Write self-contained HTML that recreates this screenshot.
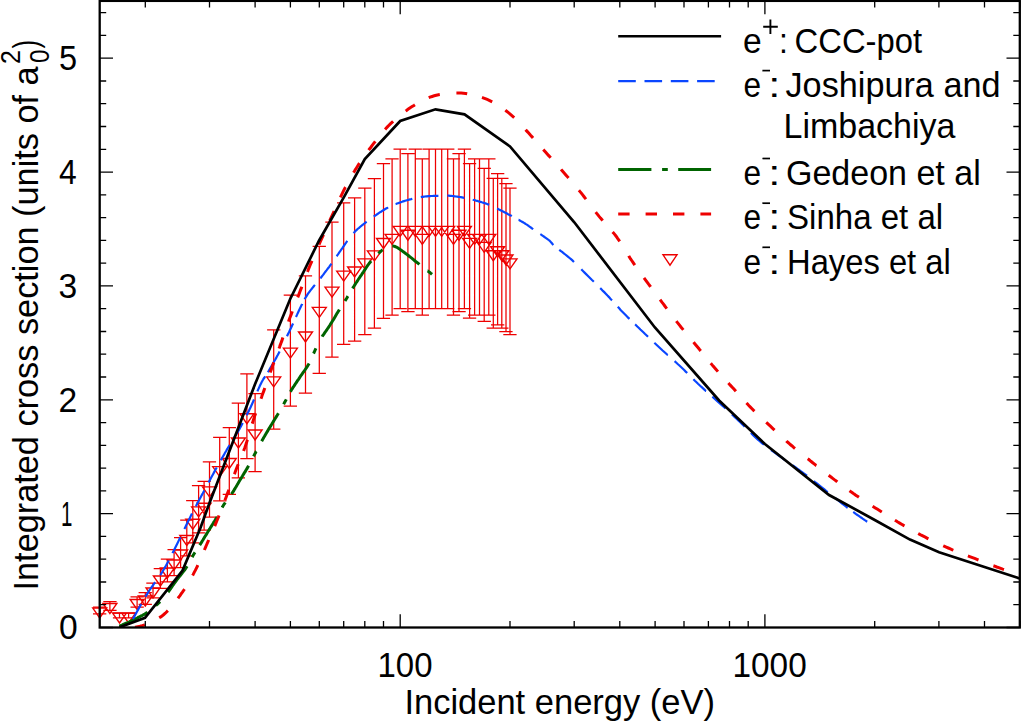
<!DOCTYPE html><html><head><meta charset="utf-8"><style>html,body{margin:0;padding:0;background:#fff;}svg{display:block;} text{font-family:"Liberation Sans",sans-serif;fill:#000;}</style></head><body>
<svg width="1021" height="722" viewBox="0 0 1021 722">
<rect width="1021" height="722" fill="#fff"/>
<g fill="none" stroke="#ee0000" stroke-width="1.25">
<path d="M99.7,607.1V613.9M93,607.1h13.3M93,613.9h13.3M109.9,601.7V610.3M103.3,601.7h13.3M103.3,610.3h13.3M119.5,613.1V617.9M112.9,613.1h13.3M112.9,617.9h13.3M128.6,613.1V617.9M121.9,613.1h13.3M121.9,617.9h13.3M137.1,596.9V607.1M130.5,596.9h13.3M130.5,607.1h13.3M145.3,592.7V604.3M138.6,592.7h13.3M138.6,604.3h13.3M153,583.1V597.9M146.3,583.1h13.3M146.3,597.9h13.3M160.4,568.7V588.3M153.7,568.7h13.3M153.7,588.3h13.3M167.4,559.1V581.9M160.8,559.1h13.3M160.8,581.9h13.3M174.1,549.5V575.5M167.5,549.5h13.3M167.5,575.5h13.3M180.6,537.5V567.5M174,537.5h13.3M174,567.5h13.3M186.8,520.1V555.9M180.2,520.1h13.3M180.2,555.9h13.3M192.8,500.5V542.9M186.1,500.5h13.3M186.1,542.9h13.3M198.6,485.7V532.9M191.9,485.7h13.3M191.9,532.9h13.3M204.1,481.3V530.1M197.5,481.3h13.3M197.5,530.1h13.3M209.5,461.8V517M202.8,461.8h13.3M202.8,517h13.3M219.7,437.4V500.8M213.1,437.4h13.3M213.1,500.8h13.3M229.3,427.7V494.3M222.7,427.7h13.3M222.7,494.3h13.3M238.4,403.1V477.9M231.7,403.1h13.3M231.7,477.9h13.3M246.9,373.9V458.5M240.3,373.9h13.3M240.3,458.5h13.3M255.1,393.5V471.5M248.4,393.5h13.3M248.4,471.5h13.3M273.7,329.8V429M267.1,329.8h13.3M267.1,429h13.3M290.4,295.2V406M283.7,295.2h13.3M283.7,406h13.3M305.5,275.9V393.1M298.8,275.9h13.3M298.8,393.1h13.3M319.3,246.3V373.3M312.6,246.3h13.3M312.6,373.3h13.3M332,222V357.2M325.3,222h13.3M325.3,357.2h13.3M343.7,202.8V344.4M337,202.8h13.3M337,344.4h13.3M354.6,197.9V341.1M348,197.9h13.3M348,341.1h13.3M364.8,188.1V334.5M358.2,188.1h13.3M358.2,334.5h13.3M374.4,178.6V328.2M367.8,178.6h13.3M367.8,328.2h13.3M383.5,163.7V318.3M376.8,163.7h13.3M376.8,318.3h13.3M392.1,158.8V315M385.4,158.8h13.3M385.4,315h13.3M400.2,149.1V308.5M393.5,149.1h13.3M393.5,308.5h13.3M407.9,153.7V311.7M401.3,153.7h13.3M401.3,311.7h13.3M415.3,149.1V308.5M408.6,149.1h13.3M408.6,308.5h13.3M422.3,158.8V315M415.7,158.8h13.3M415.7,315h13.3M429.1,149.1V308.5M422.4,149.1h13.3M422.4,308.5h13.3M435.5,149.1V308.5M428.9,149.1h13.3M428.9,308.5h13.3M441.7,149.1V308.5M435.1,149.1h13.3M435.1,308.5h13.3M447.7,149.1V308.5M441.1,149.1h13.3M441.1,308.5h13.3M453.5,158.8V315M446.8,158.8h13.3M446.8,315h13.3M459,153.7V311.7M452.4,153.7h13.3M452.4,311.7h13.3M464.4,149.1V308.5M457.8,149.1h13.3M457.8,308.5h13.3M469.6,163.5V318.1M462.9,163.5h13.3M462.9,318.1h13.3M474.6,158.8V315M468,158.8h13.3M468,315h13.3M479.5,158.8V315M472.8,158.8h13.3M472.8,315h13.3M484.2,168.4V321.4M477.6,168.4h13.3M477.6,321.4h13.3M488.8,158.8V315M482.2,158.8h13.3M482.2,315h13.3M493.3,178.3V328.1M486.6,178.3h13.3M486.6,328.1h13.3M497.6,173.5V324.9M491,173.5h13.3M491,324.9h13.3M501.8,178.3V328.1M495.2,178.3h13.3M495.2,328.1h13.3M506,183.5V331.5M499.3,183.5h13.3M499.3,331.5h13.3M510,188.1V334.5M503.3,188.1h13.3M503.3,334.5h13.3"/>
<path d="M92.7,608h14l-7,10zM102.9,603.5h14l-7,10zM112.5,613h14l-7,10zM121.6,613h14l-7,10zM130.1,599.5h14l-7,10zM138.3,596h14l-7,10zM146,588h14l-7,10zM153.4,576h14l-7,10zM160.4,568h14l-7,10zM167.1,560h14l-7,10zM173.6,550h14l-7,10zM179.8,535.5h14l-7,10zM185.8,519.2h14l-7,10zM191.6,506.8h14l-7,10zM197.1,503.2h14l-7,10zM202.5,486.9h14l-7,10zM212.7,466.6h14l-7,10zM222.3,458.5h14l-7,10zM231.4,438h14l-7,10zM239.9,413.7h14l-7,10zM248.1,430h14l-7,10zM266.7,376.9h14l-7,10zM283.4,348.1h14l-7,10zM298.5,332h14l-7,10zM312.3,307.3h14l-7,10zM325,287.1h14l-7,10zM336.7,271.1h14l-7,10zM347.6,267h14l-7,10zM357.8,258.8h14l-7,10zM367.4,250.9h14l-7,10zM376.5,238.5h14l-7,10zM385.1,234.4h14l-7,10zM393.2,226.3h14l-7,10zM400.9,230.2h14l-7,10zM408.3,226.3h14l-7,10zM415.3,234.4h14l-7,10zM422.1,226.3h14l-7,10zM428.5,226.3h14l-7,10zM434.7,226.3h14l-7,10zM440.7,226.3h14l-7,10zM446.5,234.4h14l-7,10zM452,230.2h14l-7,10zM457.4,226.3h14l-7,10zM462.6,238.3h14l-7,10zM467.6,234.4h14l-7,10zM472.5,234.4h14l-7,10zM477.2,242.4h14l-7,10zM481.8,234.4h14l-7,10zM486.3,250.7h14l-7,10zM490.6,246.7h14l-7,10zM494.8,250.7h14l-7,10zM499,255h14l-7,10zM503,258.8h14l-7,10z" stroke-width="1.35" stroke-linejoin="miter"/>
</g>
<defs><clipPath id="cp"><rect x="99.7" y="0" width="920.1" height="627.5"/></clipPath></defs>
<g clip-path="url(#cp)" fill="none">
<path d="M119.3,626.2 119.9,626 120.6,625.6 121.4,625.3 122.4,624.9 123.4,624.4 124.5,623.9 125.6,623.4 126.7,623 127.8,622.5 128.9,622 129.9,621.5 130.8,621.1 131.7,620.7 132.5,620.3 133.3,619.9 134.1,619.5 134.9,619.1 135.7,618.7 136.4,618.4 137.2,618 137.9,617.6 138.6,617.2 139.3,616.9 140,616.5 140.7,616.2 141.3,615.8 141.9,615.5 142.4,615.3 143,615 143.6,614.7 144.1,614.4 144.7,614.1 145.3,613.7 145.9,613.3 146.6,612.9 147.3,612.4 147.6,612.2M155.9,605.5 156.3,605.2 157.2,604.4 158,603.6 158.8,602.8 159.6,602.1 160.1,601.6M168.1,592.1 168.2,592 169,591 169.7,589.9 170.5,588.8 171.3,587.7 172,586.6 172.8,585.5 173.6,584.3 174.4,583.2 175.2,582.1 176,581 176.8,579.9 177.7,578.8 178.5,577.7 179.4,576.6 180.3,575.5 181.2,574.4 182,573.3 182.9,572.2 183.7,571.1 184.6,570 185.4,568.9 186.1,567.8 186.8,566.7 187.1,566.2M192.1,557.2 192.3,556.9 192.9,555.8 193.5,554.8 194.1,553.8 194.7,552.8 195,552.4M199.7,545.1 200.2,544.4 200.8,543.4 201.5,542.4 202.1,541.3 202.8,540.2 203.5,539.1 204.1,538 204.8,536.8 205.5,535.7 206.2,534.6 206.9,533.4 207.6,532.3 208.3,531.1 209,530 209.7,528.9 210.4,527.7 211.1,526.6 211.9,525.4 212.6,524.2 213.3,523.1 214,521.9 214.8,520.8 215.4,519.6 216.1,518.5 216.8,517.5 217.2,516.8M222.1,507.5 222.5,506.9 223,506 223.6,505 224.2,504 224.9,503.1 225.2,502.6M231.5,494.1 232.1,493.2 232.8,492.1 233.5,491.1 234.1,490 234.8,488.9 235.4,487.8 236.1,486.7 236.8,485.5 237.4,484.4 238.1,483.3 238.7,482.2 239.4,481.1 240,480 240.7,478.9 241.3,477.9 242,476.8 242.6,475.8 243.2,474.7 243.9,473.7 244.5,472.6 245.2,471.6 245.8,470.5 246.4,469.5 247.1,468.4 247.7,467.3 248.3,466.2 248.6,465.7M253.6,456.3 253.7,456.1 254.3,454.9 254.9,453.8 255.5,452.7 256.1,451.5 256.3,451.3M261.7,441.2 262.2,440.3 262.8,439.2 263.5,438.1 264.1,436.9 264.8,435.8 265.4,434.7 266.1,433.6 266.7,432.5 267.4,431.4 268,430.3 268.7,429.2 269.3,428.1 270,427 270.7,425.9 271.3,424.8 272,423.8 272.6,422.7 273.3,421.7 273.9,420.6 274.6,419.5 275.2,418.5 275.9,417.4 276.5,416.4 277.2,415.3 277.8,414.3 278.4,413.2M283.6,404.3 283.9,403.8 284.4,402.8 285,401.8 285.5,400.8 286,399.9 286.3,399.3M290.4,391.7 290.4,391.7 291,390.7 291.6,389.6 292.3,388.6 293,387.4 293.8,386.3 294.6,385.1 295.3,384 296.1,382.8 296.9,381.6 297.7,380.4 298.5,379.3 299.3,378.1 300,377 300.7,375.9 301.5,374.8 302.2,373.8 303,372.7 303.8,371.6 304.5,370.6 305.2,369.5 306,368.5 306.7,367.4 307.4,366.3 308,365.2 308.7,364.1 309.1,363.4M313.5,353.6 313.8,353.1 314.3,351.9 314.8,350.8 315.3,349.7 315.8,348.7 316,348.3M322.1,336.7 322.2,336.5 322.9,335.4 323.7,334.3 324.5,333.1 325.3,332 326.1,330.8 326.9,329.7 327.7,328.5 328.5,327.3 329.2,326.2 330,325 330.7,323.8 331.5,322.7 332.2,321.5 332.9,320.3 333.7,319.1 334.4,317.9 335.1,316.7 335.8,315.5 336.5,314.3 337.2,313.1 337.9,312 338.6,310.9 339.3,309.8 339.4,309.6M345,301 345.2,300.6 345.8,299.7 346.4,298.7 347,297.7 347.5,296.8 347.9,296.2M352.5,288.3 353,287.6 353.7,286.6 354.4,285.5 355.1,284.4 355.8,283.2 356.6,282.1 357.4,280.9 358.1,279.7 358.9,278.5 359.7,277.4 360.5,276.2 361.3,275.1 362,274 362.7,272.9 363.5,271.8 364.2,270.7 364.9,269.7 365.6,268.6 366.3,267.5 367,266.5 367.7,265.4 368.5,264.4 369.2,263.4 369.9,262.5 370.7,261.5 371.1,261M378.3,253.4 379,252.8 379.8,252.1 380.5,251.5 381.2,250.9 381.9,250.4 382.5,249.9 382.7,249.8M392.3,246 392.5,246 393.1,246 393.7,246.1 394.3,246.3 395,246.5 395.7,246.8 396.4,247.1 397.2,247.5 398,248 398.7,248.5 399.5,249 400.4,249.6 401.2,250.2 402.1,250.9 403,251.6 404,252.3 405,253 406,253.8 407.2,254.6 408.3,255.5 409.5,256.5 410.7,257.4 412,258.4 413.2,259.4 414.5,260.5 415.7,261.5 417,262.4 418.2,263.4 419.3,264.3 419.4,264.4M427.6,270.9 427.7,270.9 428.8,271.8 429.8,272.5 430.6,273.2 431.4,273.8 432,274.3" stroke="#006400" stroke-width="3"/>
<path d="M133,619 133.4,618.3 133.9,617.4 134.4,616.4 135,615.3 135.7,614 136.4,612.7 137.2,611.3 138,609.9 138.7,608.5 139.5,607.1 140.3,605.8 141,604.5 141.2,604.1M145.5,596.7 146.1,595.7 146.9,594.4 147.7,593.2 148.4,591.9 149.2,590.7 150,589.5 150.8,588.3 151.6,587.1 152.5,586 153.3,584.8 154.1,583.7 155,582.5 155.2,582.3M160.3,575.1 160.8,574.3 161.5,573.1 162.3,571.9 163,570.7 163.7,569.5 164.4,568.3 165.1,567.1 165.9,565.8 166.6,564.4 167.4,563 168.2,561.6 168.8,560.4M172.5,553.2 172.6,552.9 173.6,551 174.6,549 175.6,547 176.6,545 177.6,543 178.6,540.9 179.5,539 180.4,537.2M184.4,529 185.3,527.2 186.2,525.3 187.2,523.3 188.1,521.3 189.1,519.4 190.1,517.4 191,515.5 192,513.6M195.8,506.3 195.9,506.2 196.9,504.3 197.8,502.5 198.8,500.7 199.8,498.8 200.8,497 201.8,495.1 202.8,493.3 203.8,491.4 204.2,490.6M208.6,482.5 209,481.7 210.1,479.7 211.1,477.8 212.2,475.8 213.2,473.9 214.3,471.9 215.3,470 216.4,468.1 216.7,467.5M220.9,460.2 221.7,458.6 222.8,456.7 223.9,454.9 224.9,453 226,451.2 227,449.4 228,447.7 229,446 229.5,445.1M234.1,437.8 234.6,436.9 235.5,435.5 236.4,434 237.3,432.6 238.2,431.1 239.1,429.6 240,428 240.9,426.4 241.8,424.8 242.7,423.1 242.8,422.9M246.7,415.2 247,414.6 247.9,412.8 248.8,411 249.6,409.2 250.5,407.4 251.4,405.5 252.3,403.5 253.2,401.4 254,399.5M257.4,391.4 257.6,390.9 258.5,388.9 259.3,387.1 260.1,385.3 260.9,383.7 261.6,382.3 262.3,381 263,379.8 263.6,378.7 264.3,377.8 264.9,376.8 265.2,376.4M267.9,372.3 268.1,371.9 268.8,370.7 269.6,369.4 270.3,368.1 271.1,366.7 271.9,365.3 272.8,363.9 273.6,362.5 274.4,361 275.3,359.5 276.2,357.9 277,356.3 277.9,354.7 278.8,353 279.6,351.4M287,336.3 287.9,334.3 289,332.2 290,330 291.1,327.7 292.2,325.2 293.1,323.4M296,316.9 297.2,314.4 298.4,311.7 299.7,309 300.9,306.5 302.1,304.1 302.1,304M304.6,299.2 305.3,298 306.4,296.3 307.4,294.7 308.4,293.2 309.4,291.8 310.3,290.6 311.3,289.4 312.2,288.3 313,287.2 313.8,286.2 314.6,285.2 314.9,284.8M320.3,278.4 320.9,277.7 321.6,276.8 322.3,275.9 323.1,274.9 323.9,273.8 324.7,272.7 325.6,271.5 326.5,270.4 327.4,269.2 328.3,268 329.2,266.8 330,265.6 330.9,264.4 331.4,263.7M336.6,256.2 336.8,256 337.6,254.8 338.5,253.6 339.3,252.4 340.2,251.2 341,250 341.8,248.8 342.7,247.6 343.5,246.4 344.4,245.1 345.2,243.9 346.1,242.7 346.9,241.5 347.3,240.9M353.5,233.1 353.9,232.7 354.6,232 355.2,231.3 355.9,230.6 356.7,229.9 357.4,229.2 358.2,228.5 359.1,227.8 360,227 361,226.2 362,225.3 363.2,224.4 364.3,223.5 365.5,222.6 366.6,221.7M373.8,216.6 374,216.4 375.2,215.6 376.3,214.8 377.5,214 378.7,213.2 379.8,212.4 381,211.7 382.2,210.9 383.3,210.2 384.5,209.5 385.6,208.8 386.7,208.2 387.8,207.6 388.1,207.4M395.6,204.1 396,204 397,203.6 398,203.2 399,202.9 400,202.5 401,202.1 402,201.8 403.1,201.4 404.1,201.1 405.1,200.8 406.1,200.5 407.1,200.2 408.2,199.9 409.2,199.6 410.2,199.3 411.3,199.1 412.3,198.8 412.3,198.8M420.8,197.1 421.8,196.9 422.9,196.8 423.9,196.6 425,196.5 426.1,196.4 427.1,196.3 428.2,196.2 429.2,196.1 430.3,196.1 431.4,196 432.4,196 433.5,195.9 434.6,195.9 435.6,195.9 436.7,195.8 437.7,195.8 438.4,195.8M447.4,195.7 447.8,195.7 448.9,195.7 450,195.8 451.1,195.9 452.3,196 453.5,196.1 454.7,196.3 456,196.5 457.2,196.6 458.4,196.8 459.6,197 460.8,197.2 462,197.4 463.1,197.6 464.2,197.8 464.4,197.8M472.7,199.7 473.1,199.8 474,200 475,200.3 476,200.6 477.1,200.9 478.3,201.2 479.4,201.6 480.6,201.9 481.8,202.3 483,202.6 484.2,203 485.4,203.4 486.5,203.8 487.6,204.2 488.7,204.6 489.1,204.8M497.2,208.6 498.1,209 499,209.5 500,210 501,210.5 502,211 503,211.5 504,212 505,212.6 506,213.1 507,213.6 508.1,214.2 509.1,214.7 510.1,215.3 511.2,215.8 511.8,216.2M518.6,219.9 518.7,219.9 519.8,220.5 520.9,221.1 522,221.7 523,222.3 524,222.9 525,223.5 525.9,224.1 526.8,224.6 527.6,225.2 528.4,225.7 529.2,226.3 529.9,226.8 530.7,227.4 531.5,228 532.3,228.6 533.2,229.2 533.2,229.2M540.3,234.1 540.8,234.4 542.1,235.3 543.3,236.1 544.5,237 545.7,237.8 546.8,238.6 547.8,239.3 548.7,240 549.5,240.6 550.1,241.2 550.6,241.7 551,242.2 551.4,242.6 551.7,243.1 552.1,243.5 552.5,244 552.9,244.5 553.4,245M559.2,249.8 559.6,250.1 561,251.2 562.4,252.2 563.8,253.3 565.3,254.5 566.7,255.6 568.2,256.8 569.6,258 571,259.2 572.4,260.4 573.7,261.7 574,262M581.3,269.2 581.8,269.8 583.2,271.2 584.6,272.6 586.1,274.1 587.5,275.5 589,277 590.5,278.5 592,280 593.6,281.5 593.8,281.7M600.2,288.1 601.4,289.3 602.9,290.9 604.5,292.4 606,294 607.5,295.6 609,297.1 610.4,298.7 611.9,300.3 612,300.4M617.8,306.8 619.2,308.3 620.6,309.9 622.1,311.5 623.6,313 625.1,314.5 626.6,316.1 628.1,317.6 629.5,318.9M635.1,324.4 635.8,325 637.3,326.5 638.9,328 640.4,329.5 642,331 643.6,332.5 645.1,334 646.7,335.5 648,336.8M654.4,342.8 654.6,343 656.2,344.5 657.8,346 659.4,347.5 661,349 662.6,350.5 664.3,352 666,353.5 667.6,355 667.7,355M674.6,361.1 676.1,362.5 677.7,364 679.4,365.5 681,367 682.6,368.5 684.2,370 685.7,371.6 687.2,373M693.4,379.2 693.4,379.2 694.9,380.7 696.5,382.2 698,383.7 699.6,385.2 701.2,386.7 702.8,388.1 704.4,389.6 705.9,391 706,391M712.4,396.7 712.4,396.7 714,398.1 715.7,399.6 717.3,401.1 719,402.6 720.7,404.1 722.4,405.7 724.2,407.3 725.5,408.5M731.9,414.5 733.1,415.5 734.8,417.1 736.6,418.8 738.3,420.4 740,422 741.7,423.6 743.3,425.2 744.7,426.6M750.9,432.9 751.5,433.5 753.1,435.1 754.7,436.6 756.3,438.1 757.9,439.6 759.5,441 761.1,442.3 762.6,443.6 764,444.7M771.1,450 771.9,450.6 773.4,451.7 775,452.8 776.5,453.9 778,455 779.5,456.1 781,457.2 782.5,458.2 784,459.3 785.4,460.3M792.7,465.3 792.9,465.5 794.5,466.6 796,467.7 797.5,468.8 799.1,470 800.6,471.1 802.1,472.2 803.7,473.4 805.2,474.5 806.8,475.7 806.9,475.8M813.9,481.1 815,482 816.8,483.4 818.6,484.8 820.5,486.3 822.4,487.8 824.4,489.4 826.3,491 827.7,492.1M835.4,498.2 835.6,498.4 837.3,499.7 838.9,500.9 840.4,502.1 841.8,503.3 843.2,504.4 844.6,505.4 845.9,506.5 847.2,507.5 847.7,507.8M853.2,512 853.5,512.2 854.8,513.1 856.1,514.1 857.4,515 858.8,515.9 860.1,516.9 861.4,517.7 862.6,518.6 863.7,519.3 864.8,520.1 865.7,520.7 866.5,521.3 867.2,521.7" stroke="#0a46ff" stroke-width="2.2"/>
<path d="M135,627.3 135.5,627.2 136.1,627.1 136.7,626.9 137.4,626.8 138.2,626.7 139.1,626.5 140,626.3 141,626 142.1,625.7 143.2,625.3 144.3,624.9 144.8,624.7M159.2,617.8 160.7,616.9 162.3,615.7 163.8,614.5 165.3,613.2 166.8,611.7 167.9,610.6M178,598.3 178.6,597.4 180,595.6 181.3,593.7 182.6,591.9 183.9,590 184.5,589.1M192.6,575.5 193.2,574.4 194.2,572.4 195.3,570.4 196.3,568.4 197.3,566.3 197.8,565.2M204.4,550 204.7,549.2 205.6,547.1 206.5,545 207.4,542.9 208.3,540.9 208.7,540M214.7,526.1 215.2,524.9 216,522.9 216.9,520.8 217.7,518.7 218.6,516.6 219,515.5M224.9,500.3 225.3,499.3 226.1,497.2 226.9,495 227.7,492.8 228.5,490.7 228.9,489.7M234.4,474.3 234.7,473.5 235.4,471.4 236.2,469.3 237,467.3 237.8,465.2 238.1,464.3M243.6,450.9 244.1,449.5 244.9,447.5 245.6,445.4 246.3,443.3 247,441.1 247.4,439.8M252.2,423.6 252.5,422.9 253.2,420.6 253.9,418.4 254.6,416.2 255.4,414 255.7,413.2M261,398.7 261.7,396.8 262.4,394.6 263.2,392.5 264,390.4 264.7,388.3 264.8,388M270.2,372.5 270.5,371.6 271.3,369.6 272,367.5 272.7,365.4 273.5,363.4 273.9,362.4M279,348.5 279.5,347.2 280.2,345.1 281,343 281.8,340.9 282.5,338.7 282.9,337.6M288.6,321.6 288.8,320.8 289.6,318.6 290.4,316.5 291.2,314.4 292,312.3 292.3,311.4M297.7,297.4 298.2,296.1 299,294.1 299.8,292 300.6,289.9 301.4,287.9 301.8,286.7M307.4,271.9 307.8,271 308.7,268.6 309.8,266 310.9,263.3 312,260.8M319,244.7 320.3,241.7 321.8,238.5 323.2,235.3 323.4,234.8M329.7,220.8 330.3,219.5 331.7,216.3 333.2,213 334.1,211M340.4,197.4 341.6,194.8 342.9,192.2 344.1,189.7 345.3,187.4 345.5,187.1M353.5,172.7 354.3,171.5 355.4,169.6 356.6,167.7 357.8,165.8 359,163.9 359.5,163.2M368.7,150.1 369.3,149.2 370.7,147.5 372,145.7 373.3,143.9 374.7,142.2 375.3,141.3M385.1,129.4 385.9,128.5 387.4,126.9 389,125.3 390.6,123.7 392.3,122.2 393.1,121.4M405.6,111 406.5,110.4 408.3,109.1 410.2,107.8 412.1,106.6 414,105.4 414.9,104.8M428.7,97.7 430,97.2 432.1,96.5 434.2,95.8 436.3,95.2 438.5,94.7 439.8,94.5M456.4,92.9 456.7,92.9 459,93 461.2,93.1 463.4,93.3 465.6,93.5 467.2,93.8M482,97.4 483.1,97.8 485.2,98.6 487.2,99.4 489.2,100.3 491.2,101.3 492.2,101.8M505.4,110.2 506.3,111 508.1,112.4 509.9,113.8 511.6,115.3 513.3,116.8 514.2,117.6M525.6,129.7 526.2,130.4 527.8,132.1 529.3,133.8 530.8,135.5 532.3,137.1 533,137.9M543.3,149.5 544.1,150.4 545.5,152 547,153.7 548.5,155.4 550,157 550.7,157.8M561.1,169.4 561.8,170.3 563.3,172 564.8,173.7 566.3,175.4 567.8,177.1 568.5,178M578.9,190.3 579.6,191.1 581.1,192.9 582.5,194.7 583.9,196.5 585.3,198.3 586,199.2M595.7,212.1 596.3,212.9 597.7,214.6 599.1,216.4 600.5,218.1 602,219.8 602.6,220.6M612.6,231.9 613.5,232.9 614.9,234.7 616.3,236.5 617.6,238.4 619,240.3 619.7,241.4M628.7,255.8 629.1,256.6 630.4,258.6 631.7,260.5 633,262.4 634.3,264.3 634.8,265.1M644,277.9 644.7,278.8 646,280.6 647.3,282.4 648.6,284.2 650,286 650.6,286.9M660.1,299.7 660.8,300.6 662.1,302.4 663.5,304.2 664.8,306 666.2,307.8 666.8,308.6M676.3,321.1 676.9,321.9 678.3,323.6 679.7,325.4 681.1,327.2 682.5,328.9 683.3,329.9M693.6,342.2 694.2,343 695.6,344.7 697.1,346.5 698.6,348.3 700,350.1 700.7,350.9M710.7,363.2 711.7,364.4 713.1,366.1 714.6,367.8 716.1,369.5 717.5,371.1 717.9,371.6M728.4,383.1 729.2,384 730.7,385.6 732.2,387.2 733.7,388.8 735.2,390.5 735.9,391.3M746.4,403 747.3,403.8 748.8,405.5 750.4,407.1 752,408.7 753.6,410.3 754.5,411.1M766.2,422.3 767.1,423.1 768.7,424.6 770.4,426.2 772.1,427.8 773.7,429.3 774.5,430.1M786.4,441 786.8,441.5 788.6,443 790.3,444.5 792.1,446 793.9,447.6 795,448.5M807.7,458.8 809.1,459.8 810.9,461.3 812.7,462.7 814.5,464.1 816.2,465.5 816.4,465.6M828.7,475.3 829.6,476 831.3,477.3 833,478.6 834.7,479.9 836.5,481.2 837.3,481.9M849.5,490.8 850.6,491.6 852.4,492.8 854.2,494.1 856.1,495.4 857.9,496.6 858.9,497.3M872.6,506.2 873.4,506.7 875.3,507.9 877.2,509.1 879.1,510.3 881,511.5 881.8,512M894.9,520.2 895.9,520.8 897.8,522 899.7,523.1 901.6,524.2 903.6,525.4 904.5,525.9M918.2,533.5 919.3,534.1 921.3,535.2 923.3,536.2 925.3,537.2 927.4,538.3 928.4,538.8M943.2,545.8 944.1,546.2 946.2,547.1 948.3,548 950.4,548.9 952.4,549.8 953.4,550.2M967.9,555.9 969,556.3 971.1,557.1 973.2,557.9 975.3,558.7 977.5,559.6 978.5,560M993.4,565.8 994.7,566.2 996.7,567 998.7,567.7 1000.7,568.4 1002.7,569.1 1004,569.5M1019.3,574.3 1019.8,574.5" stroke="#ee0000" stroke-width="3"/>
<path d="M119.5,627.3 L145,617.8 L182.5,570.5 L200.6,527.4 L209.3,503.5 L254.9,384.5 L290.2,299 L319.1,240.5 L343.8,197.3 L364.8,159 L400.2,121 L435.5,109.3 L464.5,114.3 L510,146.5 L574.3,222.3 L654.9,327.5 L719.1,400.5 L764.9,444 L829.1,495 L874.3,519.7 L910,539.6 L939.1,552.3 L1019.8,578.5" stroke="#000" stroke-width="2.7" stroke-linejoin="miter"/>
</g>
<path d="M99.7,627.5h13.3M1019.8,627.5h-13.3M99.7,604.7h6.5M1019.8,604.7h-6.5M99.7,582h6.5M1019.8,582h-6.5M99.7,559.2h6.5M1019.8,559.2h-6.5M99.7,536.4h6.5M1019.8,536.4h-6.5M99.7,513.6h13.3M1019.8,513.6h-13.3M99.7,490.9h6.5M1019.8,490.9h-6.5M99.7,468.1h6.5M1019.8,468.1h-6.5M99.7,445.3h6.5M1019.8,445.3h-6.5M99.7,422.6h6.5M1019.8,422.6h-6.5M99.7,399.8h13.3M1019.8,399.8h-13.3M99.7,377h6.5M1019.8,377h-6.5M99.7,354.2h6.5M1019.8,354.2h-6.5M99.7,331.5h6.5M1019.8,331.5h-6.5M99.7,308.7h6.5M1019.8,308.7h-6.5M99.7,285.9h13.3M1019.8,285.9h-13.3M99.7,263.1h6.5M1019.8,263.1h-6.5M99.7,240.4h6.5M1019.8,240.4h-6.5M99.7,217.6h6.5M1019.8,217.6h-6.5M99.7,194.8h6.5M1019.8,194.8h-6.5M99.7,172.1h13.3M1019.8,172.1h-13.3M99.7,149.3h6.5M1019.8,149.3h-6.5M99.7,126.5h6.5M1019.8,126.5h-6.5M99.7,103.7h6.5M1019.8,103.7h-6.5M99.7,81h6.5M1019.8,81h-6.5M99.7,58.2h13.3M1019.8,58.2h-13.3M99.7,35.4h6.5M1019.8,35.4h-6.5M99.7,12.7h6.5M1019.8,12.7h-6.5M145.3,627.5v-6.5M145.3,1v6.5M209.5,627.5v-6.5M209.5,1v6.5M255.1,627.5v-6.5M255.1,1v6.5M290.4,627.5v-6.5M290.4,1v6.5M319.3,627.5v-6.5M319.3,1v6.5M343.7,627.5v-6.5M343.7,1v6.5M364.8,627.5v-6.5M364.8,1v6.5M383.5,627.5v-6.5M383.5,1v6.5M400.2,627.5v-13.3M400.2,1v13.3M510,627.5v-6.5M510,1v6.5M574.2,627.5v-6.5M574.2,1v6.5M619.8,627.5v-6.5M619.8,1v6.5M655.1,627.5v-6.5M655.1,1v6.5M684,627.5v-6.5M684,1v6.5M708.4,627.5v-6.5M708.4,1v6.5M729.5,627.5v-6.5M729.5,1v6.5M748.2,627.5v-6.5M748.2,1v6.5M764.9,627.5v-13.3M764.9,1v13.3M874.7,627.5v-6.5M874.7,1v6.5M938.9,627.5v-6.5M938.9,1v6.5M984.5,627.5v-6.5M984.5,1v6.5M1019.8,627.5v-6.5M1019.8,1v6.5" stroke="#000" stroke-width="1.3" fill="none"/>
<rect x="99.7" y="0.9" width="920.1" height="626.6" fill="none" stroke="#000" stroke-width="2.3"/>
<text x="59" y="639.4" font-size="34.5" textLength="18.7" lengthAdjust="spacingAndGlyphs">0</text>
<text x="61" y="525.5" font-size="34.5" textLength="11.4" lengthAdjust="spacingAndGlyphs">1</text>
<text x="58.5" y="411.7" font-size="34.5" textLength="18.7" lengthAdjust="spacingAndGlyphs">2</text>
<text x="58.5" y="297.8" font-size="34.5" textLength="18.7" lengthAdjust="spacingAndGlyphs">3</text>
<text x="59" y="184" font-size="34.5" textLength="17.7" lengthAdjust="spacingAndGlyphs">4</text>
<text x="59" y="70.1" font-size="34.5" textLength="18.1" lengthAdjust="spacingAndGlyphs">5</text>
<text x="377.5" y="677.1" font-size="34.5" textLength="55" lengthAdjust="spacingAndGlyphs">100</text>
<text x="732.5" y="677.1" font-size="34.5" textLength="74.2" lengthAdjust="spacingAndGlyphs">1000</text>
<text x="404.4" y="714" font-size="35.8" textLength="310.6" lengthAdjust="spacingAndGlyphs">Incident energy (eV)</text>
<g transform="translate(38.4,587.5) rotate(-90)">
<text x="-3" y="0" font-size="35.8" textLength="524.2" lengthAdjust="spacingAndGlyphs">Integrated cross section (units of a</text>
<text x="524.5" y="11" font-size="28" textLength="13.5" lengthAdjust="spacingAndGlyphs">0</text>
<text x="523.5" y="-18.5" font-size="28" textLength="13.9" lengthAdjust="spacingAndGlyphs">2</text>
<text x="539" y="0" font-size="35.8" textLength="8.7" lengthAdjust="spacingAndGlyphs">)</text>
</g>
<path d="M618.2,36.2H721.1" stroke="#000" stroke-width="2.6"/>
<path d="M618.2,81.1H715" stroke="#0a46ff" stroke-width="2.1" stroke-dasharray="17.6 8.7"/>
<path d="M618.2,169.4H711.1" stroke="#006400" stroke-width="3" stroke-dasharray="33.2 10.7 5.7 10.4"/>
<path d="M618.2,213.9H711.1" stroke="#ee0000" stroke-width="3" stroke-dasharray="11.4 16"/>
<path d="M663,254.8h14l-7,10.4z" fill="none" stroke="#ee0000" stroke-width="1.4"/>
<path d="M770.4,19.5V34M763.2,26.7H777.8" stroke="#000" stroke-width="1.9"/>
<path d="M762.4,70.6H770" stroke="#000" stroke-width="1.7"/>
<path d="M762.4,158.5H770" stroke="#000" stroke-width="1.7"/>
<path d="M762.4,203.2H770" stroke="#000" stroke-width="1.7"/>
<path d="M762.4,247.3H770" stroke="#000" stroke-width="1.7"/>
<text x="743" y="52.6" font-size="35.8" textLength="18.7" lengthAdjust="spacingAndGlyphs">e</text>
<text x="779" y="52.6" font-size="35.8" textLength="8.9" lengthAdjust="spacingAndGlyphs">:</text>
<text x="743.5" y="96.7" font-size="35.8" textLength="17.6" lengthAdjust="spacingAndGlyphs">e</text>
<text x="768.3" y="96.7" font-size="35.8" textLength="12.1" lengthAdjust="spacingAndGlyphs">:</text>
<text x="743.5" y="185" font-size="35.8" textLength="17.6" lengthAdjust="spacingAndGlyphs">e</text>
<text x="768.3" y="185" font-size="35.8" textLength="12.1" lengthAdjust="spacingAndGlyphs">:</text>
<text x="743.5" y="229.4" font-size="35.8" textLength="17.6" lengthAdjust="spacingAndGlyphs">e</text>
<text x="768.3" y="229.4" font-size="35.8" textLength="12.1" lengthAdjust="spacingAndGlyphs">:</text>
<text x="743.5" y="273.8" font-size="35.8" textLength="17.6" lengthAdjust="spacingAndGlyphs">e</text>
<text x="768.3" y="273.8" font-size="35.8" textLength="12.1" lengthAdjust="spacingAndGlyphs">:</text>
<text x="794.5" y="52.6" font-size="35.8" textLength="127.6" lengthAdjust="spacingAndGlyphs">CCC-pot</text>
<text x="785.5" y="96.7" font-size="35.8" textLength="215" lengthAdjust="spacingAndGlyphs">Joshipura and</text>
<text x="783.5" y="137.5" font-size="35.8" textLength="172" lengthAdjust="spacingAndGlyphs">Limbachiya</text>
<text x="786" y="185" font-size="35.8" textLength="194.7" lengthAdjust="spacingAndGlyphs">Gedeon et al</text>
<text x="787" y="229.4" font-size="35.8" textLength="156.2" lengthAdjust="spacingAndGlyphs">Sinha et al</text>
<text x="787" y="273.8" font-size="35.8" textLength="163.8" lengthAdjust="spacingAndGlyphs">Hayes et al</text>
</svg></body></html>
